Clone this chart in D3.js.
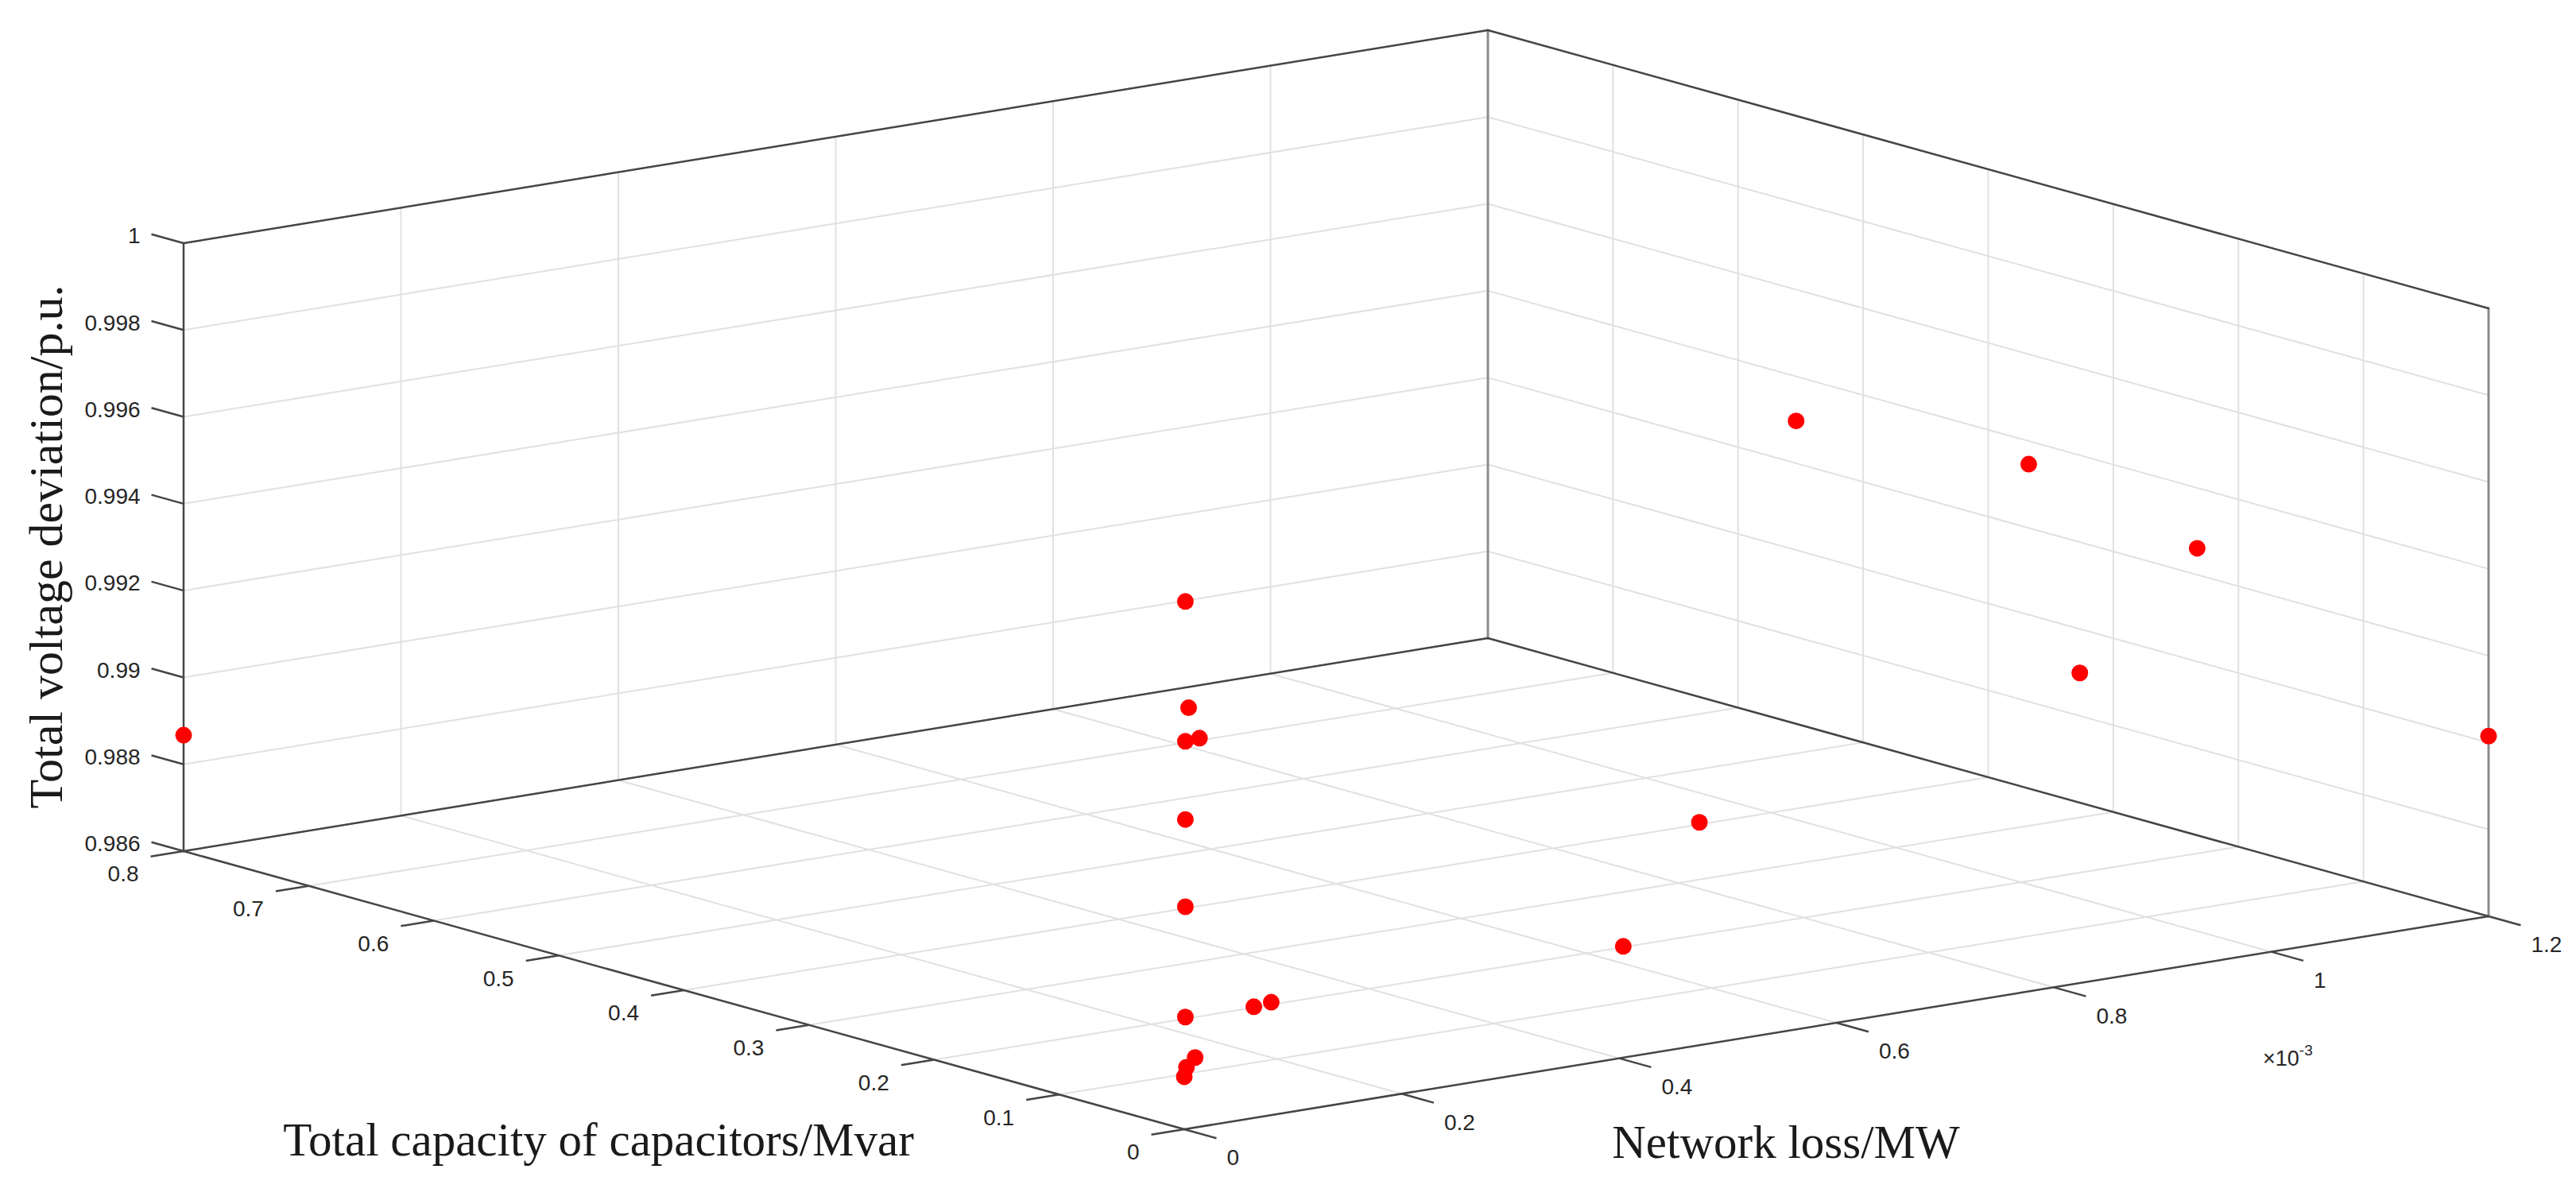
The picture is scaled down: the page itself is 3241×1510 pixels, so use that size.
<!DOCTYPE html>
<html>
<head>
<meta charset="utf-8">
<script src="https://cdn.jsdelivr.net/npm/d3@7"></script>
<style>
  body { margin: 0; background: #fff; }
  svg { display: block; }
</style>
</head>
<body>
<svg id="chart" width="3241" height="1510"></svg>
<script>
'use strict';

// Network loss, in units of 1e-3 MW
var lossValues = [0.001, 0.004, 0.001, 0.014, 0.001, 0.001, 0.001, 0.064, 0.080, 0.010, 0.002, 0.000,
  0.000, 0.678, 0.892, 1.047, 0.939, 1.200, 0.589, 0.519];
// Total capacity of capacitors, Mvar
var capacityValues = [0, 0, 0, 0, 0, 0, 0, 0, 0, 0, 0, 0,
  0.8, 0.1, 0.1, 0.1, 0.1, 0, 0.1, 0.1];
// Total voltage deviation, p.u.
var deviationValues = [0.99815, 0.99569, 0.99493, 0.99495, 0.99313, 0.99112, 0.98858, 0.98856, 0.98860, 0.98761, 0.98742, 0.98721,
  0.98867, 0.99874, 0.99687, 0.99430, 0.99187, 0.99015, 0.98986, 0.98729];

var lossTicks = [0, 0.2, 0.4, 0.6, 0.8, 1, 1.2];
var capacityTicks = [0, 0.1, 0.2, 0.3, 0.4, 0.5, 0.6, 0.7, 0.8];
var deviationTicks = [0.986, 0.988, 0.99, 0.992, 0.994, 0.996, 0.998, 1];

var lossTitle = 'Network loss/MW';
var capacityTitle = 'Total capacity of capacitors/Mvar';
var deviationTitle = 'Total voltage deviation/p.u.';

var svg = d3.select('#chart');
var fmt = d3.format('~g');

// screen position of the (0, 0, 0.986) corner and the screen vectors of the three full axis spans
var origin = [1490, 1421];
var ex = [1641, -268];
var ey = [-1259, -350];
var ez = [0, -765];

var xScale = d3.scaleLinear().domain([0, 1.2]).range([0, 1]);
var yScale = d3.scaleLinear().domain([0, 0.8]).range([0, 1]);
var zScale = d3.scaleLinear().domain([0.986, 1]).range([0, 1]);

function project(x, y, z) {
  var a = xScale(x), b = yScale(y), c = zScale(z);
  return [origin[0] + a * ex[0] + b * ey[0] + c * ez[0],
          origin[1] + a * ex[1] + b * ey[1] + c * ez[1]];
}

function unit(v) {
  var len = Math.sqrt(v[0] * v[0] + v[1] * v[1]);
  return [v[0] / len, v[1] / len];
}

var xMin = 0, xMax = 1.2, yMin = 0, yMax = 0.8, zMin = 0.986, zMax = 1;

// grid: floor and the two back walls
var grid = [];
lossTicks.forEach(function (t) {
  grid.push([project(t, yMin, zMin), project(t, yMax, zMin)]);
  grid.push([project(t, yMax, zMin), project(t, yMax, zMax)]);
});
capacityTicks.forEach(function (t) {
  grid.push([project(xMin, t, zMin), project(xMax, t, zMin)]);
  grid.push([project(xMax, t, zMin), project(xMax, t, zMax)]);
});
deviationTicks.forEach(function (t) {
  grid.push([project(xMin, yMax, t), project(xMax, yMax, t)]);
  grid.push([project(xMax, yMax, t), project(xMax, yMin, t)]);
});

svg.append('g')
  .selectAll('line')
  .data(grid)
  .enter()
  .append('line')
  .attr('x1', function (d) { return d[0][0]; })
  .attr('y1', function (d) { return d[0][1]; })
  .attr('x2', function (d) { return d[1][0]; })
  .attr('y2', function (d) { return d[1][1]; })
  .style('stroke', '#e1e1e1')
  .style('stroke-width', 2);

// box edges and axes
var darkEdges = [
  [project(xMin, yMin, zMin), project(xMax, yMin, zMin)],
  [project(xMin, yMin, zMin), project(xMin, yMax, zMin)],
  [project(xMin, yMax, zMin), project(xMax, yMax, zMin)],
  [project(xMax, yMax, zMin), project(xMax, yMin, zMin)],
  [project(xMin, yMax, zMax), project(xMax, yMax, zMax)],
  [project(xMax, yMax, zMax), project(xMax, yMin, zMax)],
  [project(xMin, yMax, zMin), project(xMin, yMax, zMax)]
];
var greyEdges = [
  [project(xMax, yMax, zMin), project(xMax, yMax, zMax)],
  [project(xMax, yMin, zMin), project(xMax, yMin, zMax)]
];

function drawEdges(data, color, width) {
  svg.append('g')
    .selectAll('line')
    .data(data)
    .enter()
    .append('line')
    .attr('x1', function (d) { return d[0][0]; })
    .attr('y1', function (d) { return d[0][1]; })
    .attr('x2', function (d) { return d[1][0]; })
    .attr('y2', function (d) { return d[1][1]; })
    .style('stroke', color)
    .style('stroke-width', width)
    .style('stroke-linecap', 'round');
}

drawEdges(greyEdges, '#8c8c8c', 3);
drawEdges(darkEdges, '#454545', 2.5);

// ticks
var tickLen = 42;
var dirX = unit([-ey[0], -ey[1]]);   // x ticks point away from the y wall
var dirY = unit([-ex[0], -ex[1]]);   // y ticks point away from the x wall
var dirZ = unit(ey);                 // z ticks point outward along y

function drawAxis(ticks, pos, dir, anchor, dx, dy) {
  var g = svg.append('g');
  var items = ticks.map(function (t) {
    var p = pos(t);
    return { value: t, p: p, q: [p[0] + dir[0] * tickLen, p[1] + dir[1] * tickLen] };
  });
  g.selectAll('line')
    .data(items)
    .enter()
    .append('line')
    .attr('x1', function (d) { return d.p[0]; })
    .attr('y1', function (d) { return d.p[1]; })
    .attr('x2', function (d) { return d.q[0]; })
    .attr('y2', function (d) { return d.q[1]; })
    .style('stroke', '#454545')
    .style('stroke-width', 2.5);
  g.selectAll('text')
    .data(items)
    .enter()
    .append('text')
    .attr('x', function (d) { return d.q[0] + dx; })
    .attr('y', function (d) { return d.q[1] + dy; })
    .attr('text-anchor', anchor)
    .attr('dominant-baseline', 'central')
    .style('font-family', '"Liberation Sans", Arial, Helvetica, sans-serif')
    .style('font-size', '28px')
    .style('fill', '#262626')
    .text(function (d) { return fmt(d.value); });
}

drawAxis(lossTicks, function (t) { return project(t, yMin, zMin); }, dirX, 'start', 13, 24.5);
drawAxis(capacityTicks, function (t) { return project(xMin, t, zMin); }, dirY, 'end', -15, 22);
drawAxis(deviationTicks, function (t) { return project(xMin, yMax, t); }, dirZ, 'end', -14, 2);

// exponent of the x axis
var expo = svg.append('text')
  .attr('x', 2847)
  .attr('y', 1341)
  .style('font-family', '"Liberation Sans", Arial, Helvetica, sans-serif')
  .style('font-size', '27px')
  .style('fill', '#262626');
expo.append('tspan').text('\u00d710');
expo.append('tspan')
  .attr('dy', -13)
  .style('font-size', '19px')
  .text('-3');

// axis titles
var titleFont = '"Liberation Serif", "Times New Roman", Times, serif';

svg.append('text')
  .attr('x', 2247)
  .attr('y', 1457)
  .attr('text-anchor', 'middle')
  .style('font-family', titleFont)
  .style('font-size', '59px')
  .style('fill', '#1a1a1a')
  .text(lossTitle);

svg.append('text')
  .attr('x', 753)
  .attr('y', 1454)
  .attr('text-anchor', 'middle')
  .style('font-family', titleFont)
  .style('font-size', '59px')
  .style('fill', '#1a1a1a')
  .text(capacityTitle);

svg.append('text')
  .attr('transform', 'translate(78, 688) rotate(-90)')
  .attr('text-anchor', 'middle')
  .style('font-family', titleFont)
  .style('font-size', '60px')
  .style('fill', '#1a1a1a')
  .text(deviationTitle);

// points
var points = lossValues.map(function (v, i) {
  return project(v, capacityValues[i], deviationValues[i]);
});

svg.append('g')
  .selectAll('circle')
  .data(points)
  .enter()
  .append('circle')
  .attr('cx', function (d) { return d[0]; })
  .attr('cy', function (d) { return d[1]; })
  .attr('r', 10.5)
  .attr('fill', '#ff0000');
</script>
</body>
</html>
